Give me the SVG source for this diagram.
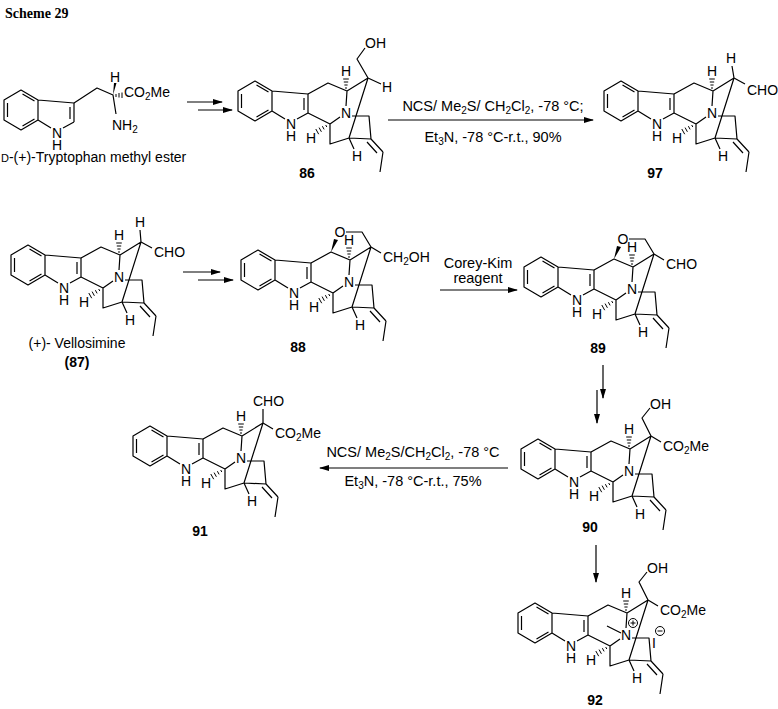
<svg xmlns="http://www.w3.org/2000/svg" xmlns:xlink="http://www.w3.org/1999/xlink" width="778" height="709" viewBox="0 0 778 709">
<style>
.b{stroke:#000;stroke-width:1.2;fill:none;stroke-linejoin:round}
.h{stroke:#000;stroke-width:1}
text{font-family:"Liberation Sans",Arial,sans-serif;font-size:14px;fill:#000}
.m{text-anchor:middle}
.n{font-weight:bold;text-anchor:middle}
.s{font-size:10px}
.c{font-size:14.5px}
</style>
<defs>
<marker id="ah" markerWidth="10" markerHeight="8" refX="9" refY="4" orient="auto" markerUnits="userSpaceOnUse"><path d="M0,1 L10,4 L0,7 Z" fill="#000"/></marker>
<g id="indole">
<path class="b" d="M-17,-10 L0,-20 L17,-10 L17,10 L0,20 L-17,10 Z M-13.5,-7 L-13.5,7 M1.5,-16 L13.5,-9 M1.5,16 L13.5,9 M17,-10 L53,-7 L53,12 M49,-3 L49,9 M53,12 L42,18 M30,18 L17,10"/>
<text class="m" x="36" y="28">N</text><text class="m" x="36" y="40">H</text>
</g>
<g id="core">
<use xlink:href="#indole"/>
<path class="b" d="M53,-7 L73,-18 L92,-10 L91,5 M85,16 L75,23 L53,12 M75,23 L75,43 L94,37 L113,-23 M92,-10 L113,-23 M97,15 L114,15 L116,38 L94,37 M116,38 L128,51 M112,41 L122,52 M128,51 L125,71 M94,37 L99,48"/>
<text class="m" x="91" y="17">N</text>
<path class="h" d="M90,-13 L92,-13 M89.4,-16 L92.6,-16 M88.8,-19 L93.2,-19 M88.2,-22 L93.8,-22"/>
<text class="m" x="91" y="-25">H</text>
<path class="h" d="M70.7,24 L71.8,26 M67.4,25.2 L69.1,28.4 M64.1,26.6 L66.4,30.8 M60.8,28 L63.7,33.2"/>
<text class="m" x="56" y="42">H</text>
<text class="m" x="102" y="60">H</text>
</g>
</defs>

<text x="5" y="18" style="font-family:'Liberation Serif',serif;font-weight:bold;font-size:14px">Scheme 29</text>

<g id="trp">
<use xlink:href="#indole" transform="translate(21,110)"/>
<path class="b" d="M74,103 L97,88 L113,95 L116,114"/>
<path d="M113,95 L114,83 L116.5,83 Z" fill="#000"/>
<path class="h" d="M116,94 L116,97 M119,93 L119,97.5 M122,92.5 L122,98"/>
<text class="m" x="115" y="82">H</text>
<text x="124" y="97">CO<tspan class="s" dy="3">2</tspan><tspan dy="-3">Me</tspan></text>
<text x="112" y="130">NH<tspan class="s" dy="3">2</tspan></text>
<text x="1" y="162"><tspan style="font-size:11px">D</tspan>-(+)-Tryptophan methyl ester</text>
</g>

<g id="c86" transform="translate(255,101)">
<use xlink:href="#core"/>
<path class="b" d="M113,-23 L126,-17 M113,-23 L102,-42 L110,-53"/>
<text class="m" x="132" y="-9">H</text>
<text x="110" y="-53">OH</text>
<text class="n" x="52" y="77">86</text>
</g>

<g id="c97" transform="translate(621,101)">
<use xlink:href="#core"/>
<path class="b" d="M113,-23 L111,-35 M113,-23 L124,-17"/>
<text class="m" x="110" y="-38">H</text>
<text x="126" y="-6">CHO</text>
<text class="n" x="34" y="77">97</text>
</g>

<g id="c87" transform="translate(28,265)">
<use xlink:href="#core"/>
<path class="b" d="M113,-23 L112,-35 M113,-23 L124,-17"/>
<text class="m" x="112" y="-38">H</text>
<text x="126" y="-8">CHO</text>
<text class="m" x="49" y="83">(+)- Vellosimine</text>
<text class="n" x="49" y="102">(87)</text>
</g>

<g id="c88" transform="translate(258,270)">
<use xlink:href="#core"/>
<path d="M73,-18 L76,-31 L80,-30 Z" fill="#000"/>
<text class="m" x="82" y="-33">O</text>
<path class="b" d="M88,-38 L104,-38 L113,-23 M113,-23 L123,-17"/>
<text x="125" y="-8">CH<tspan class="s" dy="3">2</tspan><tspan dy="-3">OH</tspan></text>
<text class="n" x="40" y="82">88</text>
</g>

<g id="c89" transform="translate(541,277)">
<use xlink:href="#core"/>
<path d="M73,-18 L76,-31 L80,-30 Z" fill="#000"/>
<text class="m" x="82" y="-33">O</text>
<path class="b" d="M88,-38 L104,-38 L113,-23 M113,-23 L123,-17"/>
<text x="125" y="-8">CHO</text>
<text class="n" x="57" y="76">89</text>
</g>

<g id="c90" transform="translate(538,459)">
<use xlink:href="#core"/>
<path class="b" d="M113,-23 L104,-41 L112,-51 M113,-23 L123,-17"/>
<text x="112" y="-50">OH</text>
<text x="125" y="-8">CO<tspan class="s" dy="3">2</tspan><tspan dy="-3">Me</tspan></text>
<text class="n" x="52" y="73">90</text>
</g>

<g id="c91" transform="translate(150,446)">
<use xlink:href="#core"/>
<path class="b" d="M113,-23 L113,-37 M113,-23 L123,-17"/>
<text x="103" y="-40">CHO</text>
<text x="125" y="-8">CO<tspan class="s" dy="3">2</tspan><tspan dy="-3">Me</tspan></text>
<text class="n" x="50" y="90">91</text>
</g>

<g id="c92" transform="translate(535,623)">
<use xlink:href="#core"/>
<path class="b" d="M113,-23 L104,-41 L112,-51 M113,-23 L123,-17 M86,10 L72,3"/>
<text x="112" y="-50">OH</text>
<text x="125" y="-8">CO<tspan class="s" dy="3">2</tspan><tspan dy="-3">Me</tspan></text>
<circle cx="98" cy="0" r="4.5" class="h" fill="none"/>
<path class="h" d="M95.5,0 L100.5,0 M98,-2.5 L98,2.5"/>
<text x="117" y="25">I</text>
<circle cx="125" cy="8" r="4.5" class="h" fill="none"/>
<path class="h" d="M122.5,8 L127.5,8"/>
<text class="n" x="60" y="82">92</text>
</g>

<g id="connectors">
<path class="b" d="M187,102 L222,102" marker-end="url(#ah)"/>
<path class="b" d="M198,110 L232,110" marker-end="url(#ah)"/>
<path class="b" d="M388,120 L593,120" marker-end="url(#ah)"/>
<path class="b" d="M183,272 L220,272" marker-end="url(#ah)"/>
<path class="b" d="M198,280 L233,280" marker-end="url(#ah)"/>
<path class="b" d="M440,290 L517,290" marker-end="url(#ah)"/>
<path class="b" d="M603,365 L603,398" marker-end="url(#ah)"/>
<path class="b" d="M597,390 L597,423" marker-end="url(#ah)"/>
<path class="b" d="M508,468 L320,468" marker-end="url(#ah)"/>
<path class="b" d="M596,545 L596,582" marker-end="url(#ah)"/>
</g>
<g id="conditions">
<text class="m c" x="493" y="111">NCS/ Me<tspan class="s" dy="3">2</tspan><tspan dy="-3">S/ CH</tspan><tspan class="s" dy="3">2</tspan><tspan dy="-3">Cl</tspan><tspan class="s" dy="3">2</tspan><tspan dy="-3">, -78 °C;</tspan></text>
<text class="m c" x="493" y="142">Et<tspan class="s" dy="3">3</tspan><tspan dy="-3">N, -78 °C-r.t., 90%</tspan></text>
<text class="m c" x="478" y="268">Corey-Kim</text>
<text class="m c" x="478" y="283">reagent</text>
<text class="m c" x="413" y="457">NCS/ Me<tspan class="s" dy="3">2</tspan><tspan dy="-3">S/CH</tspan><tspan class="s" dy="3">2</tspan><tspan dy="-3">Cl</tspan><tspan class="s" dy="3">2</tspan><tspan dy="-3">, -78 °C</tspan></text>
<text class="m c" x="413" y="486">Et<tspan class="s" dy="3">3</tspan><tspan dy="-3">N, -78 °C-r.t., 75%</tspan></text>
</g>
</svg>
